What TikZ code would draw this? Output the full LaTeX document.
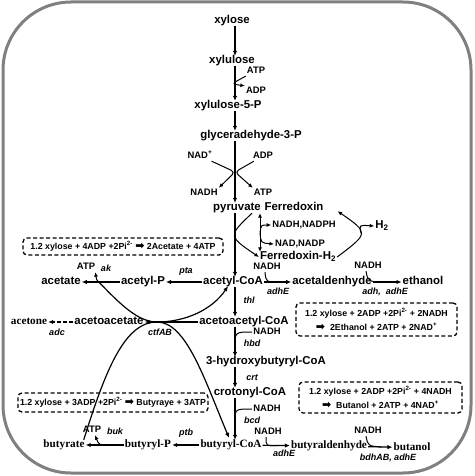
\documentclass[tikz,border=0pt]{standalone}
\usepackage{fontspec}
\setsansfont{Liberation Sans}
\newfontfamily\serifbold{Liberation Serif}
\newfontfamily\symfont{DejaVu Sans}
\usetikzlibrary{arrows.meta}

\newcommand{\bigarrow}{{\symfont\fontsize{11}{11}\selectfont ➡}}

\begin{document}
\begin{tikzpicture}[x=1pt,y=-1pt]

%-------------------------------------------------
% Styles
%-------------------------------------------------
\tikzset{
  met/.style={font=\sffamily\bfseries\fontsize{11.4}{12}\selectfont, inner sep=1pt,
    text height=1.55ex, text depth=.3ex},
  metrm/.style={font=\serifbold\bfseries\fontsize{11.2}{12}\selectfont, inner sep=1pt,
    text height=1.55ex, text depth=.3ex},
  cof/.style={font=\sffamily\bfseries\fontsize{9.4}{10}\selectfont, inner sep=1pt,
    text height=1.55ex, text depth=.3ex},
  enz/.style={font=\sffamily\bfseries\itshape\fontsize{9}{9}\selectfont, inner sep=1pt},
  eqbox/.style={draw, line width=1.3pt, dash pattern=on 4pt off 2.5pt,
    rounded corners=4pt, align=center, inner sep=2pt,
    font=\sffamily\bfseries\fontsize{8.8}{13.5}\selectfont},
  rxn/.style={-{Latex[length=5pt,width=4.5pt]}, line width=1.2pt},
  side/.style={-{Latex[length=4.5pt,width=4pt]}, line width=1pt},
  hook/.style={line width=1pt},
  frame/.style={draw=black!50, line width=3pt, rounded corners=68pt}
}

\useasboundingbox (0,0) rectangle (474,476);

% Outer frame
\draw[frame] (3,2) rectangle (471,473);

% Main spine of the pathway
\coordinate (spine) at (235,0);

%-------------------------------------------------
% Metabolites
%-------------------------------------------------
\node[met] (xyl)   at (232,21)  {xylose};
\node[met] (xlu)   at (232,61)  {xylulose};
\node[met] (x5p)   at (228,106) {xylulose-5-P};
\node[met] (g3p)   at (251,136) {glyceradehyde-3-P};
\node[met] (pyr)   at (237,208) {pyruvate};
\node[met] (fd)    at (294,208) {Ferredoxin};
\node[met] (fdh)   at (298,257) {Ferredoxin-H\textsubscript{2}};
\node[met] (h2)    at (382,226) {H\textsubscript{2}};
\node[met] (accoa) at (233,282) {acetyl-CoA};
\node[met] (acp)   at (143,282) {acetyl-P};
\node[met] (ace)   at (61,282)  {acetate};
\node[met] (ald)   at (332,282) {acetaldenhyde};
\node[met] (etoh)  at (423,282) {ethanol};
\node[met] (aacoa) at (244,322) {acetoacetyl-CoA};
\node[met] (aac)   at (109,322) {acetoacetate};
\node[metrm] (acn) at (29,322)  {acetone};
\node[met] (hbcoa) at (266,362) {3-hydroxybutyryl-CoA};
\node[met] (crcoa) at (250,393) {crotonyl-CoA};
\node[metrm] (bucoa) at (231,445) {butyryl-CoA};
\node[metrm] (bup)   at (148,445) {butyryl-P};
\node[metrm] (but)   at (64,445)  {butyrate};
\node[metrm] (bald)  at (329,446) {butyraldenhyde};
\node[metrm] (buoh)  at (412,447.5) {butanol};

%-------------------------------------------------
% Cofactors and enzymes
%-------------------------------------------------
\node[cof] (atp1)  at (256,71)  {ATP};
\node[cof] (adp1)  at (256,91)  {ADP};
\node[cof] (nadp)  at (200,156) {NAD\textsuperscript{+}};
\node[cof] (adp2)  at (263,156) {ADP};
\node[cof] (nadh1) at (204,193) {NADH};
\node[cof] (atp2)  at (263,193) {ATP};
\node[cof] (nadph) at (304,225) {NADH,NADPH};
\node[cof] (nadpl) at (300,244) {NAD,NADP};
\node[cof] (atp3)  at (86,267)  {ATP};
\node[enz] (ak)    at (106,268) {ak};
\node[enz] (pta)   at (186,271) {pta};
\node[cof] (nadh2) at (267,267) {NADH};
\node[enz] (adhE1) at (278,291) {adhE};
\node[cof] (nadh3) at (368,266) {NADH};
\node[enz] (adh)   at (385,292) {adh,~~adhE};
\node[enz] (thl)   at (249,300) {thl};
\node[enz] (adc)   at (57,332)  {adc};
\node[enz] (ctf)   at (160,332) {ctfAB};
\node[cof] (nadh4) at (267,332) {NADH};
\node[enz] (hbd)   at (252,343) {hbd};
\node[enz] (crt)   at (252,378) {crt};
\node[cof] (nadh5) at (267,409) {NADH};
\node[enz] (bcd)   at (252,420) {bcd};
\node[cof] (atp4)  at (92,430)  {ATP};
\node[enz] (buk)   at (115,431) {buk};
\node[enz] (ptb)   at (186,433) {ptb};
\node[cof] (nadh6) at (268,432) {NADH};
\node[enz] (adhE2) at (284,453) {adhE};
\node[cof] (nadh7) at (368,431) {NADH};
\node[enz] (bdh)   at (388,458) {bdhAB, adhE};

%-------------------------------------------------
% Overall reactions (dashed boxes)
%-------------------------------------------------
\node[eqbox, minimum width=200pt, minimum height=17pt] (eqace) at (123,246.5)
  {1.2 xylose + 4ADP +2Pi\textsuperscript{2-} \bigarrow\ 2Acetate + 4ATP};
\node[eqbox, minimum width=161pt, minimum height=33pt] (eqeth) at (376.5,319.5)
  {1.2 xylose + 2ADP +2Pi\textsuperscript{2-} + 2NADH\\
   \bigarrow\ \ 2Ethanol + 2ATP + 2NAD\textsuperscript{+}};
\node[eqbox, minimum width=163pt, minimum height=31pt] (eqbuo) at (380.5,397.5)
  {1.2 xylose + 2ADP +2Pi\textsuperscript{2-} + 4NADH\\
   \bigarrow\ \ Butanol + 2ATP + 4NAD\textsuperscript{+}};
\node[eqbox, minimum width=190pt, minimum height=19pt] (eqbut) at (113,402.5)
  {1.2 xylose + 3ADP +2Pi\textsuperscript{2-} \bigarrow\ Butyraye + 3ATP};

%-------------------------------------------------
% Upper pathway
%-------------------------------------------------
\draw[rxn] (xyl.south -| spine) -- (xlu.north -| spine);
\draw[rxn] (xlu.south -| spine) -- (x5p.north -| spine);
\draw[side] (atp1.south west) .. controls (231,84) .. (adp1.north west);
\draw[rxn] (x5p.south -| spine) -- (g3p.north -| spine);
\draw[rxn] (g3p.south -| spine) -- (pyr.north -| spine);

% Crossing cofactor arrows
\coordinate (xpt) at (235,172);
\draw[side, rounded corners=4pt] ([xshift=-2pt]nadp.south east) -- (xpt) -- (nadh1.north east);
\draw[side, rounded corners=4pt] ([xshift=2pt]adp2.south west) -- (xpt) -- (atp2.north west);

%-------------------------------------------------
% Ferredoxin / hydrogen
%-------------------------------------------------
\draw[rxn] (pyr.south -| spine) -- (accoa.north -| spine);
\draw[side] ([xshift=15pt]pyr.south) .. controls (228,236) .. (fdh.west);

\coordinate (redox) at (260,233);
\draw[{Latex[length=4.5pt,width=4pt]}-{Latex[length=4.5pt,width=4pt]}, line width=1pt]
  (fd.south -| redox) -- (fdh.north -| redox);
\draw[side] (redox) .. controls (261,225) .. (nadph.west);
\draw[side] (redox) .. controls (261,243) .. (nadpl.west);

\draw[side] (fdh.east) .. controls (369,233) .. ([xshift=13pt,yshift=2pt]fd.south east)
  coordinate[pos=0.5] (hsplit);
\draw[side] (hsplit) .. controls (359,225) .. (h2.west);

%-------------------------------------------------
% Acetate / ethanol branch
%-------------------------------------------------
\draw[rxn] (accoa) -- (acp);
\draw[rxn] (acp) -- (ace) coordinate[pos=0.4] (j2);
\draw[side] (j2) .. controls (97,282) .. ([xshift=-1pt]atp3.south east);

\draw[rxn] (accoa) -- (ald) coordinate[pos=0.55] (j1);
\draw[hook] ([xshift=-2pt]nadh2.south) .. controls (266,282) .. (j1);
\draw[rxn] (ald) -- (etoh) coordinate[pos=0.55] (j7);
\draw[hook] ([xshift=-2pt]nadh3.south) .. controls (368,282) .. (j7);

%-------------------------------------------------
% Acetoacetate / ctfAB
%-------------------------------------------------
\coordinate (ctfx) at (157,322);
\draw[rxn] (accoa.south -| spine) -- (aacoa.north -| spine);
\draw[rxn] (aacoa) -- (aac);
\draw[rxn, dash pattern=on 4pt off 2pt] (aac) -- (acn);

\draw[rxn] ([xshift=17pt]ace.east) .. controls (120,304) and (138,322) .. (ctfx)
  .. controls (185,322) and (212,310) .. ([xshift=-5pt,yshift=1pt]accoa.south);
\draw[rxn] ([xshift=-2pt]but.north east) .. controls (105,372) and (124,322) .. (ctfx)
  .. controls (186,322) and (204,378) .. ([xshift=-2pt,yshift=2pt]bucoa.north);

%-------------------------------------------------
% Butyryl-CoA branch
%-------------------------------------------------
\draw[rxn] (aacoa.south -| spine) -- (hbcoa.north -| spine) coordinate[pos=0.65] (j3);
\draw[hook] (nadh4.west) .. controls (nadh4.west -| spine) .. (j3);
\draw[rxn] (hbcoa.south -| spine) -- (crcoa.north -| spine);
\draw[rxn] (crcoa.south -| spine) -- (bucoa.north -| spine) coordinate[pos=0.55] (j4);
\draw[hook] (nadh5.west) .. controls (nadh5.west -| spine) .. (j4);

\draw[rxn] (bucoa) -- (bup);
\draw[rxn] (bup) -- (but) coordinate[pos=0.4] (j6);
\draw[side] (j6) .. controls (99,445) .. ([xshift=3pt]atp4.south);

\draw[rxn] (bucoa) -- (bald) coordinate[pos=0.55] (j5);
\draw[hook] ([xshift=-2pt]nadh6.south) .. controls (266,446) .. (j5);
\draw[rxn] (bald) -- (buoh) coordinate[pos=0.55] (j8);
\draw[hook] ([xshift=-2pt]nadh7.south) .. controls (368,446) .. (j8);

\end{tikzpicture}
\end{document}
